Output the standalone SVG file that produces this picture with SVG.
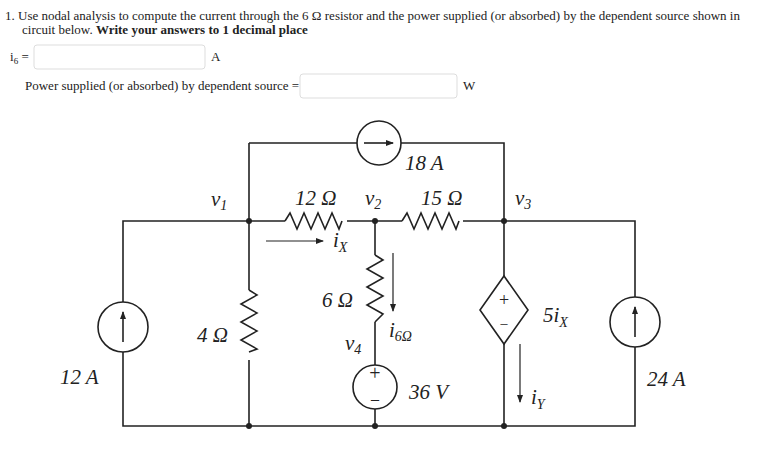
<svg xmlns="http://www.w3.org/2000/svg" width="771" height="455" viewBox="0 0 771 455">
<style>
.t{font-family:"Liberation Serif",serif;font-size:13px;fill:#222}
.l{font-family:"Liberation Serif","DejaVu Serif",serif;font-style:italic;font-size:21px;fill:#222}
.s{font-size:14px}
.w{fill:none;stroke:#222;stroke-width:1.6}
.box{fill:#fff;stroke:#ddd;stroke-width:1}
.d{fill:#222}
</style>
<defs><marker id="a" markerWidth="8" markerHeight="6" refX="7" refY="3" orient="auto" markerUnits="userSpaceOnUse"><path d="M0,0 L8,3 L0,6z" fill="#222"/></marker></defs>
<g id="question">
<text class="t" x="5" y="20">1.  Use nodal analysis to compute the current through the 6 Ω resistor and the power supplied (or absorbed) by the dependent source shown in</text>
<text class="t" x="22" y="34">circuit below.  <tspan font-weight="bold">Write your answers to 1 decimal place</tspan></text>
<text class="t" x="10" y="61">i<tspan font-size="9" dy="3">6</tspan><tspan dy="-3"> =</tspan></text>
<rect class="box" x="34" y="45" width="171" height="24" rx="3"/>
<text class="t" x="211" y="61">A</text>
<text class="t" x="25" y="90">Power supplied (or absorbed) by dependent source =</text>
<rect class="box" x="300" y="74" width="157" height="24" rx="3"/>
<text class="t" x="463" y="90">W</text>
</g>
<g id="wires">
<path class="w" d="M123,302 V221 H285 M347,221 H402 M463,221 H635 V297 M635,347 V426 H123 V352"/>
<path class="w" d="M249,143 H357 M401,143 H504 V276 M504,344 V426"/>
<path class="w" d="M249,143 V290 M249,360 V426"/>
<path class="w" d="M375,221 V255 M375,322 V365 M375,409 V426"/>
<line class="w" x1="266" y1="241" x2="323" y2="241" marker-end="url(#a)" style="stroke-width:1.2"/>
<line class="w" x1="393" y1="253" x2="393" y2="311" marker-end="url(#a)" style="stroke-width:1.2"/>
<line class="w" x1="520" y1="344" x2="520" y2="402" marker-end="url(#a)" style="stroke-width:1.2"/>
</g>
<g id="nodes">
<circle class="d" cx="249" cy="221" r="3"/><circle class="d" cx="375" cy="221" r="3"/><circle class="d" cx="504" cy="221" r="3"/>
<circle class="d" cx="249" cy="426" r="3"/><circle class="d" cx="375" cy="426" r="3"/><circle class="d" cx="504" cy="426" r="3"/>
</g>
<g id="R12"><path class="w" d="M285,221 l5,-8 l7,16 l7,-16 l7,16 l7,-16 l7,16 l7,-16 l7,16 l3,-8"/></g>
<g id="R15"><path class="w" d="M402,221 l5,-8 l7,16 l7,-16 l7,16 l7,-16 l7,16 l7,-16 l7,16 l3,-8"/></g>
<g id="R4"><path class="w" d="M249,290 l8,5 l-16,9 l16,9 l-16,9 l16,9 l-16,9 l16,9 l-8,3"/></g>
<g id="R6"><path class="w" d="M375,255 l8,5 l-16,9 l16,9 l-16,9 l16,9 l-16,9 l16,9 l-8,8"/></g>
<g id="I18"><circle class="w" cx="379" cy="143" r="22"/><line class="w" x1="364" y1="143" x2="393" y2="143" marker-end="url(#a)"/></g>
<g id="I12"><circle class="w" cx="123" cy="327" r="25"/><line class="w" x1="123" y1="342" x2="123" y2="312" marker-end="url(#a)"/></g>
<g id="I24"><circle class="w" cx="635" cy="322" r="25"/><line class="w" x1="635" y1="337" x2="635" y2="307" marker-end="url(#a)"/></g>
<g id="V36"><circle class="w" cx="375" cy="387" r="22"/><text class="t" x="375" y="380" text-anchor="middle" style="font-size:20px">+</text><text class="t" x="375" y="404" text-anchor="middle" style="font-size:16px">–</text></g>
<g id="dep"><path class="w" d="M504,276 L528,310 L504,344 L480,310 Z"/><text class="t" x="504" y="306" text-anchor="middle" style="font-size:18px">+</text><text class="t" x="504" y="328" text-anchor="middle" style="font-size:14px">–</text></g>
<g id="labels">
<text class="l" x="211" y="206">v<tspan class="s" dy="4">1</tspan></text>
<text class="l" x="295" y="205">12 Ω</text>
<text class="l" x="365" y="205">v<tspan class="s" dy="4">2</tspan></text>
<text class="l" x="421" y="205">15 Ω</text>
<text class="l" x="515" y="205">v<tspan class="s" dy="4">3</tspan></text>
<text class="l" x="405" y="170">18 A</text>
<text class="l" x="333" y="247">i<tspan class="s" dy="5">X</tspan></text>
<text class="l" x="322" y="307">6 Ω</text>
<text class="l" x="197" y="342">4 Ω</text>
<text class="l" x="389" y="337">i<tspan class="s" dy="4">6Ω</tspan></text>
<text class="l" x="345" y="350">v<tspan class="s" dy="4">4</tspan></text>
<text class="l" x="409" y="399">36 V</text>
<text class="l" x="60" y="384">12 A</text>
<text class="l" x="543" y="322">5i<tspan class="s" dy="5">X</tspan></text>
<text class="l" x="647" y="386">24 A</text>
<text class="l" x="531" y="404">i<tspan class="s" dy="5">Y</tspan></text>
</g>
</svg>
